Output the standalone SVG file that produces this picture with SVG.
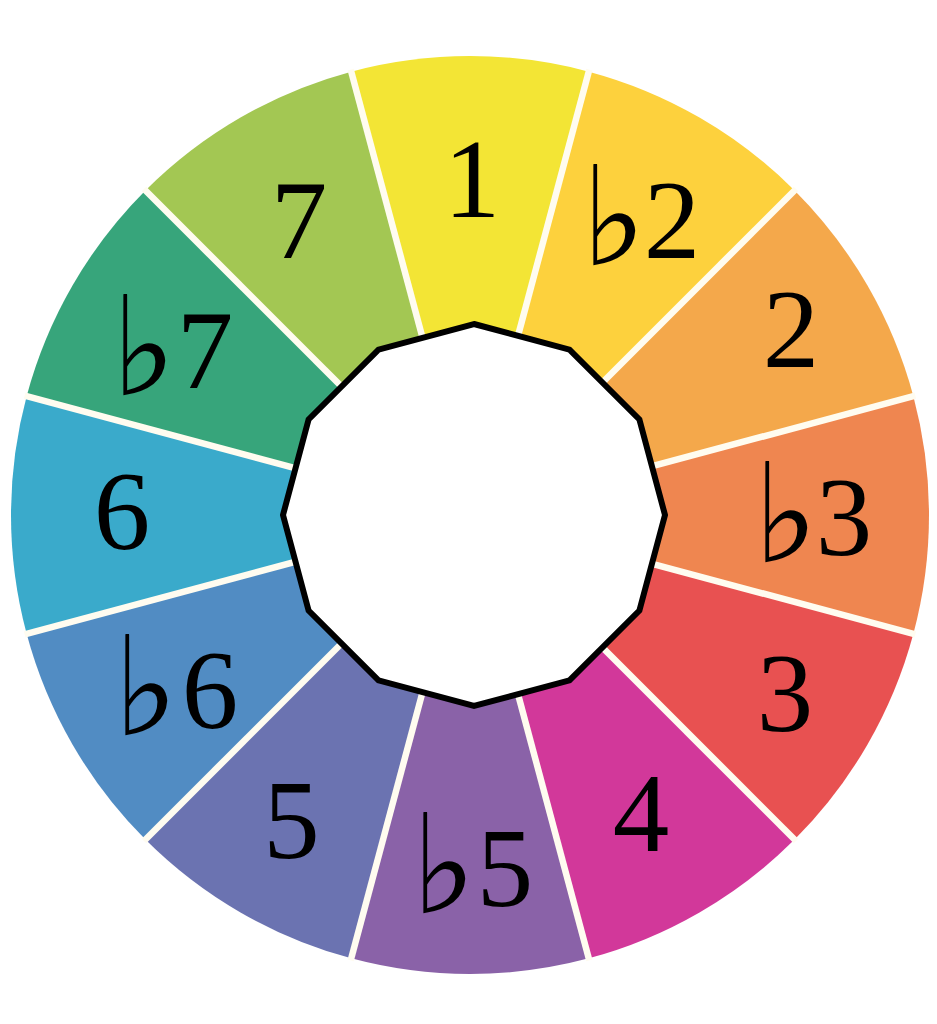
<svg xmlns="http://www.w3.org/2000/svg" width="937" height="1024" viewBox="0 0 937 1024">
<style>
.lbl{font-family:"Liberation Serif","Times New Roman",serif;font-size:113px;fill:#000;text-anchor:middle}
.flat{font-family:"DejaVu Sans",sans-serif;font-size:138px;text-anchor:start}
.gap{stroke:#fffcf0;stroke-width:6.5;fill:none}
</style>
<rect width="937" height="1024" fill="#ffffff"/>
<g id="seg-1"><path d="M470,515 L351.2,71.64 A459,459 0 0 1 588.8,71.64 Z" fill="#F3E535"/></g>
<g id="seg-b2"><path d="M470,515 L588.8,71.64 A459,459 0 0 1 794.56,190.44 Z" fill="#FDD13D"/></g>
<g id="seg-2"><path d="M470,515 L794.56,190.44 A459,459 0 0 1 913.36,396.2 Z" fill="#F4A84B"/></g>
<g id="seg-b3"><path d="M470,515 L913.36,396.2 A459,459 0 0 1 913.36,633.8 Z" fill="#EF8650"/></g>
<g id="seg-3"><path d="M470,515 L913.36,633.8 A459,459 0 0 1 794.56,839.56 Z" fill="#E85151"/></g>
<g id="seg-4"><path d="M470,515 L794.56,839.56 A459,459 0 0 1 588.8,958.36 Z" fill="#D2389A"/></g>
<g id="seg-b5"><path d="M470,515 L588.8,958.36 A459,459 0 0 1 351.2,958.36 Z" fill="#8A62A8"/></g>
<g id="seg-5"><path d="M470,515 L351.2,958.36 A459,459 0 0 1 145.44,839.56 Z" fill="#6B73B1"/></g>
<g id="seg-b6"><path d="M470,515 L145.44,839.56 A459,459 0 0 1 26.64,633.8 Z" fill="#518CC3"/></g>
<g id="seg-6"><path d="M470,515 L26.64,633.8 A459,459 0 0 1 26.64,396.2 Z" fill="#3AAACB"/></g>
<g id="seg-b7"><path d="M470,515 L26.64,396.2 A459,459 0 0 1 145.44,190.44 Z" fill="#37A57B"/></g>
<g id="seg-7"><path d="M470,515 L145.44,190.44 A459,459 0 0 1 351.2,71.64 Z" fill="#A3C753"/></g>
<g id="connectors" class="gap">
<line x1="470" y1="515" x2="350.7" y2="69.7"/>
<line x1="470" y1="515" x2="589.3" y2="69.7"/>
<line x1="470" y1="515" x2="796" y2="189"/>
<line x1="470" y1="515" x2="915.3" y2="395.7"/>
<line x1="470" y1="515" x2="915.3" y2="634.3"/>
<line x1="470" y1="515" x2="796" y2="841"/>
<line x1="470" y1="515" x2="589.3" y2="960.3"/>
<line x1="470" y1="515" x2="350.7" y2="960.3"/>
<line x1="470" y1="515" x2="144" y2="841"/>
<line x1="470" y1="515" x2="24.7" y2="634.3"/>
<line x1="470" y1="515" x2="24.7" y2="395.7"/>
<line x1="470" y1="515" x2="144" y2="189"/>
</g>
<g id="center"><polygon points="474,324 569.5,349.59 639.41,419.5 665,515 639.41,610.5 569.5,680.41 474,706 378.5,680.41 308.59,610.5 283,515 308.59,419.5 378.5,349.59" fill="#ffffff" stroke="#000000" stroke-width="6" stroke-linejoin="miter"/></g>
<g id="labels">
<text class="lbl" x="472" y="217">1</text>
<text class="lbl"><tspan class="flat" x="581" y="265">♭</tspan><tspan x="672" y="258">2</tspan></text>
<text class="lbl" x="791" y="367">2</text>
<text class="lbl"><tspan class="flat" x="753" y="562">♭</tspan><tspan x="844" y="555">3</tspan></text>
<text class="lbl" x="785" y="731">3</text>
<text class="lbl" x="641" y="851">4</text>
<text class="lbl"><tspan class="flat" x="411" y="913">♭</tspan><tspan x="505" y="906">5</tspan></text>
<text class="lbl" x="291.5" y="858">5</text>
<text class="lbl"><tspan class="flat" x="113" y="735">♭</tspan><tspan x="210" y="728">6</tspan></text>
<text class="lbl" x="122" y="549">6</text>
<text class="lbl"><tspan class="flat" x="111" y="395">♭</tspan><tspan x="205" y="388">7</tspan></text>
<text class="lbl" x="299" y="258">7</text>
</g>
</svg>
